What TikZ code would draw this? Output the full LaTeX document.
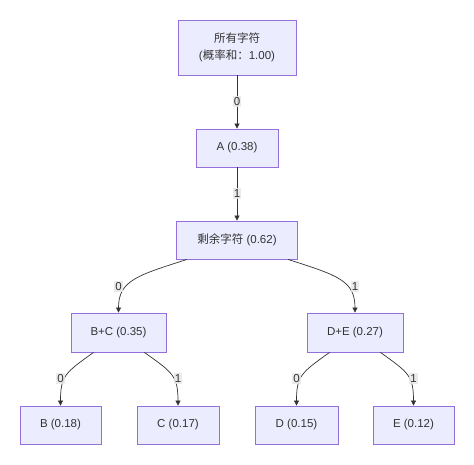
\documentclass[tikz,border=0pt]{standalone}
\usepackage{fontspec}
\setmainfont{Liberation Sans}
\newfontfamily\cjk{Noto Sans CJK SC}
\usetikzlibrary{arrows.meta}
\definecolor{nodefill}{HTML}{ECECFF}
\definecolor{nodeline}{HTML}{9370DB}
\definecolor{ink}{HTML}{333333}
\definecolor{lblbg}{HTML}{E8E8E8}
\begin{document}
\begin{tikzpicture}[x=1pt,y=-1pt,
  box/.style={draw=nodeline,fill=nodefill,line width=0.8pt,text=ink,font=\fontsize{11.5}{20}\selectfont,inner sep=0pt,align=center},
  lbl/.style={fill=lblbg,text=ink,font=\fontsize{11.5}{13}\selectfont,inner xsep=1pt,inner ysep=1.5pt,fill opacity=0.85,text opacity=1},
  edge/.style={draw=ink,line width=0.7pt,-{Triangle[length=5pt,width=5pt]}}]
\useasboundingbox[fill=white] (0,0) rectangle (474,465);
\node[box,minimum width=118pt,minimum height=55pt] (root) at (237,47.5) {\raisebox{-2pt}{\cjk 所有字符}\\[-1pt]({\cjk 概率和：}1.00)};
\node[box,minimum width=82pt,minimum height=38pt] (A) at (237,148) {A (0.38)};
\node[box,minimum width=121pt,minimum height=38pt] (R) at (237,240) {{\cjk 剩余字符} (0.62)};
\node[box,minimum width=95pt,minimum height=39pt] (BC) at (118.5,332.5) {B+C (0.35)};
\node[box,minimum width=96pt,minimum height=39pt] (DE) at (355,332.5) {D+E (0.27)};
\node[box,minimum width=81pt,minimum height=38pt] (B) at (60.5,425) {B (0.18)};
\node[box,minimum width=82pt,minimum height=38pt] (C) at (178,425) {C (0.17)};
\node[box,minimum width=83pt,minimum height=38pt] (D) at (296.5,425) {D (0.15)};
\node[box,minimum width=81pt,minimum height=38pt] (E) at (413.5,425) {E (0.12)};

\draw[edge] (root) -- (A);
\draw[edge] (A) -- (R);
\draw[edge] ([xshift=11pt]R.south west) .. controls +(-50,16) and +(0,-32) .. (BC.north);
\draw[edge] ([xshift=-10pt]R.south east) .. controls +(50,16) and +(0,-32) .. (DE.north);
\draw[edge] ([xshift=23pt]BC.south west) .. controls +(-28,20) and +(0,-30) .. (B.north);
\draw[edge] ([xshift=-22pt]BC.south east) .. controls +(28,20) and +(0,-30) .. (C.north);
\draw[edge] ([xshift=23pt]DE.south west) .. controls +(-28,20) and +(0,-30) .. (D.north);
\draw[edge] ([xshift=-23pt]DE.south east) .. controls +(28,20) and +(0,-30) .. (E.north);

\node[lbl] (l1) at ([yshift=27pt]A.north) {0};
\node[lbl] (l2) at ([yshift=27pt]R.north) {1};
\node[lbl] (l3) at ([yshift=26pt]BC.north) {0};
\node[lbl] (l4) at ([yshift=26pt]DE.north) {1};
\node[lbl] (l5) at ([yshift=27pt]B.north) {0};
\node[lbl] (l6) at ([yshift=27pt]C.north) {1};
\node[lbl] (l7) at ([yshift=27pt]D.north) {0};
\node[lbl] (l8) at ([yshift=27pt]E.north) {1};
\end{tikzpicture}
\end{document}
